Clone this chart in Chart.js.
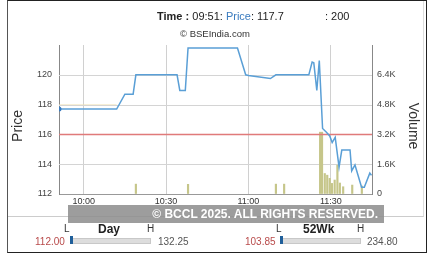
<!DOCTYPE html>
<html>
<head>
<meta charset="utf-8">
<script src="https://cdn.jsdelivr.net/npm/chart.js@4/dist/chart.umd.min.js"></script>
<style>
  html, body { margin:0; padding:0; background:#fff; }
  body { width:427px; height:253px; position:relative; overflow:hidden; font-family:"Liberation Sans", Arial, sans-serif; }
  #c { position:absolute; left:0; top:0; }
  .abs { position:absolute; white-space:nowrap; }
  .frame { position:absolute; left:7px; top:0; width:418px; height:251px; border-top:1px solid #222; border-left:1px solid #555; border-right:1px solid #222; border-bottom:1px solid #222; }
  .inner { position:absolute; left:8px; top:1px; width:415px; height:215px; border-right:1px solid #ddd; border-bottom:1px solid #ccc; }
  .title { left:157px; top:10px; font-size:11px; color:#222; }
  .title b { font-weight:bold; }
  .src { left:180px; top:28px; font-size:9.5px; color:#333; }
  .ytitle { font-size:14px; color:#333; }
  .wm { left:68px; top:205px; width:316px; height:18px; background:rgba(140,140,140,0.85); }
  .wmt { right:6px; top:2px; font-size:12px; font-weight:bold; color:#fff; }
  .lbl { font-size:10px; color:#333; }
  .bold { font-size:12px; font-weight:bold; color:#222; }
  .low { font-size:10px; color:#b84a4a; }
  .high { font-size:10px; color:#555; }
  .track { height:4px; background:#ddd; border:1px solid #c8c8c8; }
  .mark { width:3px; height:8px; background:#1f5f9a; }
</style>
</head>
<body>
<canvas id="c" width="427" height="253"></canvas>
<div class="frame"></div>
<div class="inner"></div>
<div class="abs title"><b>Time :</b> 09:51: <span style="color:#3a7bbf">Price</span>: 117.7</div>
<div class="abs title" style="left:325px">: 200</div>
<div class="abs src">© BSEIndia.com</div>
<div class="abs ytitle" style="left:-1px; top:118px; transform:rotate(-90deg); transform-origin:50% 50%; width:36px; text-align:center;">Price</div>
<div class="abs ytitle" style="left:389px; top:118px; transform:rotate(90deg); transform-origin:50% 50%; width:50px; text-align:center;">Volume</div>
<div class="abs wm"><div class="abs wmt">© BCCL 2025. ALL RIGHTS RESERVED.</div></div>

<div class="abs lbl" style="left:64px; top:223px;">L</div>
<div class="abs bold" style="left:98px; top:222px;">Day</div>
<div class="abs lbl" style="left:147px; top:223px;">H</div>
<div class="abs low" style="left:35px; top:236px;">112.00</div>
<div class="abs track" style="left:70px; top:238px; width:79px;"></div>
<div class="abs mark" style="left:70px; top:236px;"></div>
<div class="abs high" style="left:158px; top:236px;">132.25</div>

<div class="abs lbl" style="left:276px; top:223px;">L</div>
<div class="abs bold" style="left:303px; top:222px;">52Wk</div>
<div class="abs lbl" style="left:357px; top:223px;">H</div>
<div class="abs low" style="left:245px; top:236px;">103.85</div>
<div class="abs track" style="left:280px; top:238px; width:79px;"></div>
<div class="abs mark" style="left:280px; top:236px;"></div>
<div class="abs high" style="left:367px; top:236px;">234.80</div>

<script>
// ---- data (time in minutes since midnight) ----
const priceTimes  = [591, 612, 615, 618, 619, 634, 635, 637, 638, 656, 659, 660, 668, 670, 682, 683.2, 683.8, 684.9, 685.8, 687, 688.4, 689.6, 690.5, 691.6, 693, 694, 697, 697.6, 698.8, 701.2, 702.2, 704.2, 704.8];
const priceValues = [117.7, 117.7, 118.7, 118.7, 120, 120, 118.95, 118.95, 121.8, 121.8, 120, 119.95, 119.75, 120, 120, 120.85, 120.8, 118.95, 120.95, 116.4, 116.15, 115.9, 115.45, 115.8, 113.8, 114.95, 114.95, 113.55, 113.95, 112.45, 112.45, 113.4, 113.25];
const volumeTimes  = [619, 638, 670, 673, 686.1, 686.8, 687.8, 688.7, 689.6, 690.4, 691.4, 692.4, 693.3, 694.5, 697.8, 701.3];
const volumeValues = [530, 520, 530, 530, 3320, 3320, 1100, 1010, 840, 570, 750, 1550, 590, 390, 480, 430];
const prevClose = 116;
const openRef = 118;
const timeRange = [591, 705];
const xTicks = [600, 630, 660, 690];
const xTickLabels = ['10:00', '10:30', '11:00', '11:30'];
const priceRange = [112, 122];
const priceTicks = [112, 114, 116, 118, 120];
const volumeRange = [0, 8000];
const volumeTicks = [0, 1600, 3200, 4800, 6400];
const volumeTickLabels = ['0', '1.6K', '3.2K', '4.8K', '6.4K'];

const priceData = priceTimes.map((t, i) => ({ x: t, y: priceValues[i] }));
const volData = volumeTimes.map((t, i) => ({ x: t, y: volumeValues[i] }));

// horizontal grid lines at the price ticks, placed through the y scale
const hGrid = {
  id: 'hGrid',
  beforeDatasetsDraw(chart) {
    const { ctx, chartArea: a, scales: { y } } = chart;
    ctx.save();
    ctx.strokeStyle = '#d4d4d4';
    ctx.lineWidth = 1;
    priceTicks.forEach(v => {
      if (v === priceRange[0]) return;
      const py = Math.round(y.getPixelForValue(v)) + 0.5;
      ctx.beginPath(); ctx.moveTo(a.left, py); ctx.lineTo(a.right, py); ctx.stroke();
    });
    ctx.restore();
  }
};

new Chart(document.getElementById('c'), {
  type: 'bar',
  data: {
    datasets: [
      { type: 'line', data: priceData, yAxisID: 'y', borderColor: '#5a9fd6', borderWidth: 1.5, tension: 0,
        pointRadius: ctx => ctx.dataIndex === 0 ? 2.5 : 0, pointBackgroundColor: '#3a7bbf', pointBorderWidth: 0, order: 0 },
      { type: 'line', data: [{ x: timeRange[0], y: prevClose }, { x: timeRange[1], y: prevClose }], yAxisID: 'y',
        borderColor: '#e07a7a', borderWidth: 1.5, pointRadius: 0, order: 1 },
      { type: 'line', data: [{ x: timeRange[0], y: openRef }, { x: 612, y: openRef }], yAxisID: 'y',
        borderColor: 'rgba(240,225,180,0.6)', borderWidth: 1, pointRadius: 0, order: 2 },
      { type: 'bar', data: volData, yAxisID: 'y1', backgroundColor: '#c6c68a', barThickness: 1.5, order: 3 }
    ]
  },
  plugins: [hGrid],
  options: {
    responsive: false,
    animation: false,
    devicePixelRatio: 1,
    layout: { padding: { left: 0, right: 0, top: 45, bottom: 39 } },
    plugins: { legend: { display: false }, tooltip: { enabled: false } },
    scales: {
      x: {
        type: 'linear', min: timeRange[0], max: timeRange[1], position: 'bottom', offset: false,
        afterBuildTicks: s => { s.ticks = xTicks.map(v => ({ value: v })); },
        afterFit: s => { s.height = 20; },
        ticks: { font: { size: 9, family: 'Liberation Sans' }, color: '#333', padding: 2, maxRotation: 0,
          callback: v => xTickLabels[xTicks.indexOf(v)] },
        grid: { color: '#d0d0d0', drawTicks: false, offset: false },
        border: { color: '#999' }
      },
      y: {
        type: 'linear', position: 'left', min: priceRange[0], max: priceRange[1],
        afterBuildTicks: s => { s.ticks = priceTicks.map(v => ({ value: v })); },
        afterFit: s => { s.width = 59; },
        ticks: { font: { size: 9, family: 'Liberation Sans' }, color: '#444', padding: 7 },
        grid: { display: true, drawOnChartArea: false, drawTicks: false, color: '#d0d0d0' },
        border: { display: true, color: '#888' }
      },
      y1: {
        type: 'linear', position: 'right', min: volumeRange[0], max: volumeRange[1],
        afterBuildTicks: s => { s.ticks = volumeTicks.map(v => ({ value: v })); },
        afterFit: s => { s.width = 55; },
        ticks: { font: { size: 9, family: 'Liberation Sans' }, color: '#444', padding: 5,
          callback: v => volumeTickLabels[volumeTicks.indexOf(v)] },
        grid: { display: true, drawOnChartArea: false, drawTicks: false, color: '#d0d0d0' },
        border: { display: true, color: '#888' }
      }
    }
  }
});
</script>
</body>
</html>
